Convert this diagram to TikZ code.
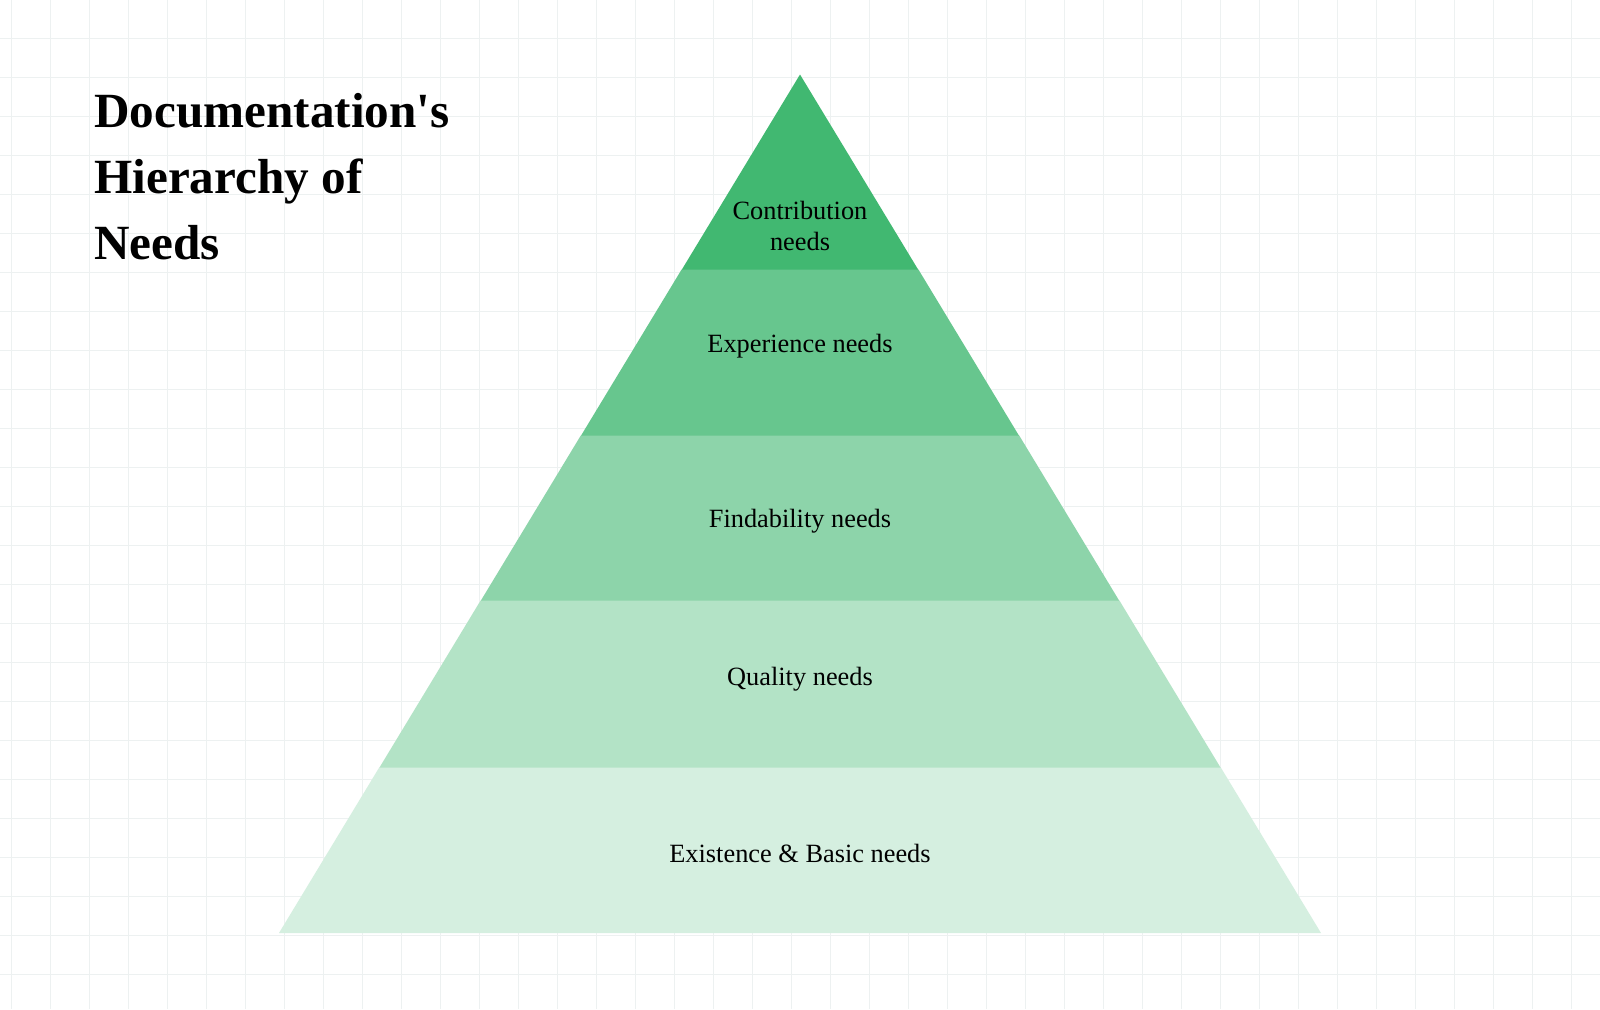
\documentclass[tikz,border=0pt]{standalone}
\usepackage{fontspec}
\setmainfont{Liberation Serif}
\usepackage{xcolor}
\usepackage{tikz}
\usetikzlibrary{positioning}

\definecolor{needgreen}{HTML}{41B871}
\definecolor{gridgray}{HTML}{EDF1F1}

\begin{document}
\begin{tikzpicture}[x=0.02cm, y=-0.02cm,
    needlabel/.style={align=center, text=black, font=\fontsize{15}{17.6}\selectfont},
    titletext/.style={align=left, anchor=north west, inner sep=0pt, font=\bfseries\fontsize{28}{37.6}\selectfont}]
    % Background and grid
    \fill[white] (0,0) rectangle (1600,1009);
    \useasboundingbox (0,0) rectangle (1600,1009);
    \foreach \x in {0,...,40} {
        \draw[gridgray, line width=0.7pt] (11.7+39*\x, 0) -- ++(0, 1009);
    }
    \foreach \y in {0,...,24} {
        \draw[gridgray, line width=0.7pt] (0, 38.3+39*\y) -- ++(1600, 0);
    }

    % Title
    \node[titletext] (title) at (94, 93) {Documentation\textquotesingle s\\Hierarchy of\\Needs};

    % Pyramid bands, lighter towards the base
    \foreach \top/\bot/\shade in {75/270/100, 270/436/80, 436/601/60, 601/768/40, 768/933/22} {
        \pgfmathsetmacro{\wtop}{0.60723*(\top-75)}
        \pgfmathsetmacro{\wbot}{0.60723*(\bot-75)}
        \fill[needgreen!\shade] (800-\wtop, \top-0.5) -- (800+\wtop, \top-0.5)
            -- (800+\wbot, \bot) -- (800-\wbot, \bot) -- cycle;
    }

    % Band labels
    \node[needlabel] (contribution) at (800, 226) {Contribution\\needs};
    \node[needlabel] (experience) at (800, 346) {Experience needs};
    \node[needlabel] (findability) at (800, 521) {Findability needs};
    \node[needlabel] (quality) at (800, 679) {Quality needs};
    \node[needlabel] (existence) at (800, 853) {Existence \& Basic needs};
\end{tikzpicture}
\end{document}
